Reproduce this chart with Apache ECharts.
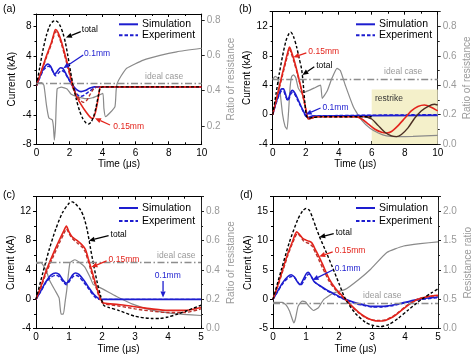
<!DOCTYPE html>
<html><head><meta charset="utf-8">
<script src="https://cdn.jsdelivr.net/npm/echarts@6/dist/echarts.min.js"></script>
<style>html,body{margin:0;padding:0;background:#fff}#c{width:474px;height:363px}</style>
</head><body><div id="c"></div>
<script>
// ---------------- DATA (time in µs, current in kA, ratio dimensionless) ----------------
// Panel (a)
const a_total = [[0,0],[0.2,2.5],[0.4,4.9],[0.6,6.8],[0.8,8.1],[1.0,8.7],[1.15,8.8],[1.3,8.6],[1.45,8.0],[1.6,7.1],[1.75,5.8],[1.9,4.0],[2.05,2.0],[2.2,0.2],[2.4,-1.8],[2.6,-3.4],[2.8,-4.5],[3.0,-5.1],[3.15,-5.25],[3.3,-5.0],[3.45,-4.3],[3.6,-3.0],[3.75,-1.3],[3.85,-0.4],[4.0,-0.2],[10,-0.2]];
const a_red_sim = [[0,0],[0.3,2.0],[0.6,4.0],[0.9,5.8],[1.05,7.0],[1.15,7.6],[1.3,7.2],[1.5,6.0],[1.7,4.4],[1.9,2.7],[2.05,1.3],[2.2,0],[2.4,-1.4],[2.7,-2.6],[3.0,-3.6],[3.25,-4.3],[3.4,-4.5],[3.55,-3.8],[3.7,-2.2],[3.8,-0.8],[3.88,-0.2],[10,-0.2]];
const a_red_exp = [[0,0],[0.3,1.9],[0.6,3.8],[0.9,5.6],[1.05,6.7],[1.15,7.3],[1.3,6.9],[1.5,5.7],[1.7,4.1],[1.9,2.4],[2.05,1.0],[2.15,-0.1],[2.4,-1.2],[2.65,-2.0],[2.85,-2.3],[3.05,-2.0],[3.25,-1.2],[3.45,-0.5],[3.65,-0.2],[10,-0.2]];
const a_blue_sim = [[0,0],[0.2,1.2],[0.4,2.2],[0.6,2.8],[0.7,2.9],[0.85,2.6],[1.0,1.9],[1.1,1.5],[1.25,1.9],[1.45,2.4],[1.6,2.3],[1.8,1.5],[2.0,0.7],[2.2,0.0],[2.45,-0.6],[2.7,-0.85],[2.95,-0.7],[3.2,-0.4],[3.5,-0.2],[10,-0.2]];
const a_blue_exp = [[0,0],[0.2,1.0],[0.4,2.0],[0.6,2.5],[0.75,2.6],[0.9,2.3],[1.05,1.6],[1.15,1.3],[1.3,1.6],[1.5,2.0],[1.65,1.9],[1.85,1.2],[2.05,0.4],[2.25,-0.4],[2.45,-1.2],[2.65,-1.5],[2.9,-1.3],[3.2,-0.8],[3.5,-0.35],[3.75,-0.2],[10,-0.2]];
const a_ratio = [[0,0.44],[0.3,0.445],[0.45,0.43],[0.6,0.32],[0.75,0.245],[0.95,0.235],[1.02,0.2],[1.08,0.12],[1.15,0.2],[1.25,0.41],[1.5,0.42],[1.85,0.41],[2.1,0.38],[2.5,0.365],[3.0,0.355],[3.4,0.36],[3.8,0.375],[4.02,0.385],[4.08,0.3],[4.18,0.253],[4.45,0.275],[4.75,0.31],[4.82,0.4],[4.88,0.44],[5.1,0.48],[5.46,0.527],[6.47,0.573],[7.48,0.6],[8.49,0.62],[10,0.64]];
const a_ideal = 0.442;

// Panel (b)
const b_total = [[0,0],[0.2,2.8],[0.4,5.6],[0.6,8.0],[0.8,10.0],[1.0,11.1],[1.1,11.2],[1.25,10.7],[1.45,9.2],[1.6,7.7],[1.75,6.2],[1.85,4.2],[1.95,1.6],[2.05,-0.2],[2.2,-0.5],[2.4,-0.4],[3,-0.3],[6,-0.3]];
const b_total_restrike = [[5.6,-0.3],[6.0,-0.6],[6.4,-1.5],[6.8,-2.4],[7.2,-2.9],[7.5,-3.0],[7.8,-2.7],[8.2,-1.8],[8.6,-0.5],[9.0,0.5],[9.4,1.1],[9.8,1.4],[10,1.3]];
const b_red_sim = [[0,0],[0.2,1.9],[0.4,3.8],[0.6,5.7],[0.8,7.5],[0.95,8.8],[1.02,9.2],[1.1,8.8],[1.3,7.4],[1.5,5.7],[1.7,3.8],[1.9,1.9],[2.05,0.3],[2.15,-0.5],[2.3,-0.5],[2.6,-0.3],[5.0,-0.3],[5.4,-0.6],[5.8,-1.3],[6.2,-2.0],[6.6,-2.4],[6.9,-2.5],[7.2,-2.3],[7.6,-1.5],[8.0,-0.5],[8.4,0.5],[8.8,1.1],[9.2,1.3],[9.6,1.0],[10,0.5]];
const b_red_exp = [[0,0],[0.2,1.8],[0.4,3.6],[0.6,5.4],[0.8,7.2],[0.95,8.4],[1.02,8.8],[1.1,8.5],[1.3,7.1],[1.5,5.5],[1.7,3.7],[1.9,1.8],[2.05,0.2],[2.15,-0.6],[2.3,-0.6],[2.6,-0.3],[6.0,-0.3]];
const b_blue_sim = [[0,0],[0.2,1.6],[0.4,2.9],[0.55,3.5],[0.65,3.5],[0.8,2.6],[0.9,2.0],[1.0,2.4],[1.1,3.1],[1.2,3.3],[1.35,2.9],[1.5,2.2],[1.7,1.2],[1.9,0.3],[2.05,-0.3],[2.15,-0.4],[2.4,-0.2],[10,-0.1]];
const b_blue_exp = [[0,0],[0.2,1.5],[0.4,2.7],[0.55,3.2],[0.65,3.2],[0.8,2.4],[0.9,1.9],[1.0,2.2],[1.1,2.8],[1.2,3.0],[1.35,2.7],[1.5,2.0],[1.7,1.1],[1.9,0.2],[2.05,-0.4],[2.15,-0.5],[2.4,-0.2],[10,0.0]];
const b_ratio = [[0,0.44],[0.15,0.46],[0.3,0.45],[0.45,0.35],[0.6,0.2],[0.75,0.12],[0.87,0.1],[0.95,0.2],[1.05,0.38],[1.15,0.46],[1.27,0.47],[1.4,0.45],[1.55,0.38],[1.75,0.35],[2.0,0.355],[2.5,0.38],[2.9,0.4],[3.0,0.31],[3.3,0.36],[3.6,0.45],[3.9,0.515],[4.1,0.5],[4.4,0.4],[4.9,0.25],[5.4,0.16],[5.9,0.107],[6.4,0.075],[6.9,0.055],[7.5,0.05],[8.5,0.052],[10,0.058]];
const b_ideal = 0.443;
const b_restrike = [[6,-4],[10,3.4]];

// Panel (c)
const c_total = [[0,0],[0.2,3.5],[0.4,6.8],[0.6,9.6],[0.8,11.8],[1.0,13.1],[1.1,13.3],[1.2,13.0],[1.35,12.2],[1.45,11.2],[1.55,9.5],[1.65,7.0],[1.75,4.6],[1.85,2.4],[1.95,0.6],[2.05,-0.8],[2.2,-1.1],[2.5,-1.5],[3.0,-2.3],[3.5,-2.6],[3.75,-2.6],[4.0,-2.4],[4.3,-2.0],[4.6,-1.5],[5,-0.8]];
const c_red_sim = [[0,0],[0.15,1.8],[0.3,3.8],[0.5,6.0],[0.7,8.0],[0.85,9.4],[0.92,10.0],[1.0,9.2],[1.1,8.5],[1.25,8.0],[1.4,7.4],[1.5,6.8],[1.58,5.6],[1.66,4.4],[1.75,3.0],[1.85,1.5],[1.95,0.1],[2.05,-0.5],[2.5,-0.7],[3.0,-1.0],[3.5,-1.3],[4.0,-1.5],[4.5,-1.5],[5,-1.1]];
const c_red_exp = [[0,0],[0.15,1.6],[0.3,3.5],[0.5,5.6],[0.7,7.6],[0.85,9.0],[0.92,9.6],[1.0,9.0],[1.1,8.3],[1.25,7.7],[1.4,7.1],[1.5,6.4],[1.58,5.2],[1.66,4.0],[1.75,2.6],[1.85,1.2],[1.95,-0.1],[2.05,-0.6],[2.5,-0.9],[3.0,-1.3],[3.5,-1.6],[4.0,-1.8],[4.5,-1.8],[5,-1.3]];
const c_blue_sim = [[0,0],[0.15,1.2],[0.3,2.4],[0.45,3.3],[0.6,3.6],[0.7,3.4],[0.82,2.6],[0.92,2.2],[1.02,2.7],[1.12,3.4],[1.2,3.6],[1.3,3.4],[1.45,2.6],[1.6,1.6],[1.75,0.7],[1.9,0.1],[2.0,0],[5,0]];
const c_blue_exp = [[0,0],[0.15,1.1],[0.3,2.3],[0.45,3.0],[0.6,3.3],[0.7,3.1],[0.82,2.4],[0.92,2.0],[1.02,2.5],[1.12,3.1],[1.2,3.3],[1.3,3.1],[1.45,2.3],[1.6,1.4],[1.75,0.5],[1.9,0],[2.0,0],[5,0]];
const c_ratio = [[0,0.443],[0.15,0.45],[0.25,0.42],[0.32,0.39],[0.42,0.325],[0.58,0.26],[0.7,0.21],[0.73,0.15],[0.76,0.1],[0.83,0.1],[0.88,0.18],[0.93,0.26],[1.03,0.45],[1.18,0.47],[1.33,0.45],[1.48,0.42],[1.64,0.35],[1.74,0.3],[1.94,0.28],[2.44,0.22],[2.95,0.166],[3.45,0.13],[3.96,0.11],[4.46,0.098],[5,0.09]];
const c_ideal = 0.447;

// Panel (d)
const d_total = [[0,0],[0.25,5.0],[0.5,9.8],[0.75,13.6],[0.9,15.1],[1.0,15.5],[1.1,15.2],[1.2,13.9],[1.3,12.3],[1.4,10.8],[1.6,8.2],[1.8,5.5],[2.0,2.7],[2.2,0],[2.5,-2.4],[2.8,-3.9],[3.0,-4.4],[3.25,-4.65],[3.5,-4.3],[3.8,-3.2],[4.1,-1.8],[4.5,0],[4.8,1.1],[5,1.8]];
const d_red_sim = [[0,0],[0.15,2.5],[0.3,5.2],[0.45,7.8],[0.6,10.0],[0.72,11.5],[0.8,11.1],[0.9,10.4],[1.0,10.1],[1.1,9.9],[1.18,9.6],[1.3,8.3],[1.4,7.2],[1.5,6.0],[1.7,3.5],[1.9,1.8],[2.05,0.9],[2.2,0],[2.4,-1.2],[2.6,-2.2],[2.8,-3.0],[3.0,-3.5],[3.2,-3.7],[3.4,-3.6],[3.6,-3.1],[3.8,-2.3],[4.0,-1.4],[4.2,-0.6],[4.4,0],[4.7,0.5],[5,0.7]];
const d_red_exp = [[0,0],[0.15,2.3],[0.3,4.9],[0.45,7.5],[0.6,9.7],[0.74,11.2],[0.82,10.8],[0.92,10.0],[1.0,9.7],[1.1,9.5],[1.18,9.1],[1.3,7.8],[1.4,6.6],[1.5,5.4],[1.7,3.1],[1.9,1.6],[2.05,0.7],[2.2,-0.1],[2.4,-1.3],[2.6,-2.3],[2.8,-3.1],[3.0,-3.5],[3.2,-3.6],[3.4,-3.5],[3.6,-3.0],[3.8,-2.2],[4.0,-1.3],[4.2,-0.5],[4.4,0.1],[4.7,0.5],[5,0.6]];
const d_blue_sim = [[0,0],[0.15,1.5],[0.3,2.9],[0.45,3.9],[0.55,4.2],[0.65,3.8],[0.75,2.9],[0.82,2.5],[0.9,3.2],[1.0,4.3],[1.07,4.6],[1.15,4.0],[1.25,3.0],[1.4,2.4],[1.6,1.7],[1.8,1.1],[2.0,0.5],[2.2,0],[2.5,-0.6],[2.8,-1.0],[3.0,-1.2],[3.3,-1.2],[3.6,-1.0],[4.0,-0.5],[4.4,0],[5,0.4]];
const d_blue_exp = [[0,0],[0.15,1.4],[0.3,2.7],[0.45,3.6],[0.57,3.9],[0.67,3.6],[0.77,2.8],[0.84,2.4],[0.92,3.0],[1.02,4.0],[1.09,4.3],[1.17,3.8],[1.27,2.9],[1.42,2.3],[1.6,1.6],[1.8,1.0],[2.0,0.4],[2.2,-0.1],[2.5,-0.7],[2.8,-1.1],[3.0,-1.3],[3.3,-1.3],[3.6,-1.1],[4.0,-0.6],[4.4,-0.1],[5,0.3]];
const d_ratio = [[0,0.45],[0.28,0.45],[0.4,0.4],[0.5,0.3],[0.58,0.17],[0.63,0.1],[0.68,0.17],[0.76,0.38],[0.88,0.47],[0.98,0.46],[1.08,0.39],[1.23,0.31],[1.38,0.36],[1.54,0.5],[1.84,0.61],[2.19,0.67],[2.6,0.84],[2.95,1.01],[3.45,1.3],[3.96,1.41],[4.46,1.45],[5,1.48]];
const d_ideal = 0.43;

// Axis tick labels (right axis of panel a)
const a_ratio_ticks = [0.2,0.4,0.6,0.8];
const legendNames = ['Simulation','Experiment'];

// ---------------- LAYOUT / STYLE ----------------
const FONT = '"Liberation Sans", Arial, sans-serif';
const BLUE = '#1d1dcf', RED = '#e3241c', RED2 = '#b8322c', GRAY = '#8a8a8a', LGRAY = '#9a9a9a';

const panels = [
  {label:'(a)', lab:[3,4], grid:{left:36.5, top:14, width:165.2, height:130.3}, xMax:10, xInt:2, xGap:15,
   yMin:-8, yMax:9.7, yInt:4, rMin:0.0964, rMax:0.834, rInt:0.2, rCustom:a_ratio_ticks, rName:'Ratio of resistance',
   legendLeft:118, legendTop:18.8, legendGap:0,
   total:a_total, redS:a_red_sim, redE:a_red_exp, blueS:a_blue_sim, blueE:a_blue_exp, ratio:a_ratio, ideal:a_ideal,
   notes:[
     {text:'total', color:'#000', pos:[2.74,7.53], from:[2.68,7.3], to:[1.78,6.5]},
     {text:'0.1mm', color:BLUE, pos:[2.88,4.36], from:[2.83,4.13], to:[1.62,2.33]},
     {text:'0.15mm', color:RED, pos:[4.65,-5.6], from:[4.45,-5.38], to:[3.54,-4.45]},
     {text:'ideal case', color:LGRAY, pos:[6.57,1.18]}
   ]},
  {label:'(b)', lab:[239,4], grid:{left:272.7, top:11.7, width:165, height:132.3}, xMax:10, xInt:2, xGap:15,
   yMin:-4, yMax:14, yInt:4, rMin:0, rMax:0.9, rInt:0.2, rName:'Ratio of resistance',
   legendLeft:355, legendTop:18.8, legendGap:0,
   total:b_total, redS:b_red_sim, redE:b_red_exp, blueS:b_blue_sim, blueE:b_blue_exp, ratio:b_ratio, ideal:b_ideal,
   restrikeTotal:b_total_restrike, area:b_restrike,
   notes:[
     {text:'0.15mm', color:RED, pos:[2.16,8.5], from:[2.04,8.4], to:[1.25,7.8]},
     {text:'total', color:'#000', pos:[2.64,6.6], from:[2.52,6.5], to:[1.8,5.4]},
     {text:'0.1mm', color:BLUE, pos:[3.02,1.0], from:[2.9,0.9], to:[2.0,0.0]},
     {text:'ideal case', color:LGRAY, pos:[6.75,5.8]},
     {text:'restrike', color:'#333', pos:[6.2,2.12]}
   ]},
  {label:'(c)', lab:[3,190], grid:{left:36, top:196.7, width:165, height:132}, xMax:5, xInt:1, xGap:16,
   yMin:-4, yMax:14, yInt:4, rMin:0, rMax:0.9, rInt:0.2, rName:'Ratio of resistance',
   legendLeft:118, legendTop:202.5, legendGap:2,
   total:c_total, redS:c_red_sim, redE:c_red_exp, blueS:c_blue_sim, blueE:c_blue_exp, ratio:c_ratio, ideal:c_ideal,
   notes:[
     {text:'total', color:'#000', pos:[2.26,8.8], from:[2.2,8.7], to:[1.6,8.0]},
     {text:'0.15mm', color:RED, pos:[2.2,5.4], from:[2.14,5.26], to:[1.68,4.4]},
     {text:'0.1mm', color:BLUE, pos:[3.6,3.2], from:[3.85,2.5], to:[3.85,0.25]},
     {text:'ideal case', color:LGRAY, pos:[3.67,5.95]}
   ]},
  {label:'(d)', lab:[240,190], grid:{left:273, top:196.7, width:165, height:132}, xMax:5, xInt:1, xGap:16,
   yMin:-5, yMax:17.5, yInt:5, rMin:0, rMax:2.25, rInt:0.5, rName:'Resistance ratio',
   legendLeft:355, legendTop:202.5, legendGap:2,
   total:d_total, redS:d_red_sim, redE:d_red_exp, blueS:d_blue_sim, blueE:d_blue_exp, ratio:d_ratio, ideal:d_ideal,
   notes:[
     {text:'total', color:'#000', pos:[1.9,11.35], from:[1.84,11.2], to:[1.4,10.6]},
     {text:'0.15mm', color:RED, pos:[1.87,8.3], from:[1.81,8.1], to:[1.4,7.3]},
     {text:'0.1mm', color:BLUE, pos:[1.87,5.2], from:[1.81,5.0], to:[1.2,3.3]},
     {text:'ideal case', color:LGRAY, pos:[2.73,0.59]}
   ]}
];

const grids = [], xAxes = [], yAxes = [], series = [], legends = [];
const tickFont = {fontSize:10, fontFamily:FONT};

panels.forEach((p, i) => {
  grids.push(Object.assign({containLabel:false}, p.grid));
  xAxes.push({type:'value', gridIndex:i, position:'bottom', min:0, max:p.xMax, interval:p.xInt,
    name:'Time (μs)', nameLocation:'middle', nameGap:p.xGap, nameTextStyle:{fontSize:10, fontFamily:FONT, color:'#000'},
    axisLine:{show:true, onZero:false, lineStyle:{color:'#000', width:1}},
    axisTick:{show:true, inside:true, length:3, lineStyle:{color:'#000'}},
    minorTick:{show:true, splitNumber:2, length:2, lineStyle:{color:'#000'}},
    axisLabel:Object.assign({color:'#000', margin:4}, tickFont), splitLine:{show:false}});
  xAxes.push({type:'value', gridIndex:i, position:'top', min:0, max:p.xMax, interval:p.xInt,
    axisLine:{show:true, onZero:false, lineStyle:{color:'#000', width:1}},
    axisTick:{show:true, inside:true, length:3, lineStyle:{color:'#000'}},
    minorTick:{show:true, splitNumber:2, length:2, lineStyle:{color:'#000'}},
    axisLabel:{show:false}, splitLine:{show:false}});
  yAxes.push({type:'value', gridIndex:i, position:'left', min:p.yMin, max:p.yMax, interval:p.yInt,
    name:'Current (kA)', nameLocation:'middle', nameGap:19, nameTextStyle:{fontSize:10, fontFamily:FONT, color:'#000'},
    axisLine:{show:true, onZero:false, lineStyle:{color:'#000', width:1}},
    axisTick:{show:true, inside:false, length:3, lineStyle:{color:'#000'}},
    minorTick:{show:true, splitNumber:2, length:2, lineStyle:{color:'#000'}},
    axisLabel:Object.assign({color:'#000', margin:5, showMaxLabel:false}, tickFont), splitLine:{show:false}});
  const r = {type:'value', gridIndex:i, position:'right', min:p.rMin, max:p.rMax,
    name:p.rName, nameLocation:'middle', nameGap:25, nameRotate:90, nameTextStyle:{fontSize:10, fontFamily:FONT, color:LGRAY},
    axisLine:{show:true, onZero:false, lineStyle:{color:'#222', width:1}},
    axisTick:{show:true, inside:false, length:3, lineStyle:{color:'#222'}},
    axisLabel:Object.assign({color:LGRAY, margin:5, formatter:v => v.toFixed(1)}, tickFont),
    splitLine:{show:false}};
  if (p.rCustom) {
    r.axisLabel.customValues = p.rCustom; r.axisTick.customValues = p.rCustom;
  } else {
    r.interval = p.rInt;
    r.axisLabel.showMaxLabel = false;
    r.minorTick = {show:true, splitNumber:2, length:2, lineStyle:{color:'#222'}};
  }
  yAxes.push(r);

  const xi = 2*i, yl = 2*i, yr = 2*i+1;
  const base = {type:'line', xAxisIndex:xi, yAxisIndex:yl, showSymbol:false, symbol:'none', smooth:0.25, silent:true, animation:false};
  series.push(Object.assign({}, base, {name:'ratio'+i, yAxisIndex:yr, data:p.ratio, smooth:0.15,
    lineStyle:{color:GRAY, width:1.2}, itemStyle:{color:GRAY},
    markLine:{silent:true, symbol:['none','none'], label:{show:false}, animation:false,
      lineStyle:{color:'#8d8d8d', width:1.3, type:[7,2.5,1.5,2.5]}, data:[{yAxis:p.ideal}]}}));
  series.push(Object.assign({}, base, {name:'blueE'+i, data:p.blueE,
    lineStyle:{color:BLUE, width:1.4, type:[3.5,2]}, itemStyle:{color:BLUE},
    markArea: p.area ? {silent:true, itemStyle:{color:'#f4f0ca'}, data:[[{coord:p.area[0]},{coord:p.area[1]}]]} : undefined}));
  series.push(Object.assign({}, base, {name:'blueS'+i, data:p.blueS, lineStyle:{color:BLUE, width:1.6}, itemStyle:{color:BLUE}}));
  series.push(Object.assign({}, base, {name:'redE'+i, data:p.redE, lineStyle:{color:RED2, width:1.4, type:[3.5,2]}, itemStyle:{color:RED2}}));
  series.push(Object.assign({}, base, {name:'redS'+i, data:p.redS, lineStyle:{color:RED, width:1.6}, itemStyle:{color:RED}}));
  if (p.restrikeTotal) {
    series.push(Object.assign({}, base, {name:'restrike'+i, data:p.restrikeTotal, lineStyle:{color:'#4a2e22', width:1.4}, itemStyle:{color:'#4a2e22'}}));
  }
  series.push(Object.assign({}, base, {name:'total'+i, data:p.total, lineStyle:{color:'#000', width:1.4, type:[3,2]}, itemStyle:{color:'#000'}}));

  legends.push({show:true, data:legendNames, orient:'vertical', left:p.legendLeft, top:p.legendTop,
    padding:0, itemGap:p.legendGap, itemWidth:19, itemHeight:9, selectedMode:false,
    itemStyle:{opacity:0, borderWidth:0},
    textStyle:{fontSize:10.5, fontFamily:FONT, color:'#000', lineHeight:10.5, padding:[0,0,0,-1]}});
});

// legend-only series
series.push({type:'line', name:'Simulation', data:[], xAxisIndex:0, yAxisIndex:0, symbol:'none', symbolSize:0, lineStyle:{color:BLUE, width:2}, itemStyle:{color:BLUE}});
series.push({type:'line', name:'Experiment', data:[], xAxisIndex:0, yAxisIndex:0, symbol:'none', symbolSize:0, lineStyle:{color:BLUE, width:2, type:[3.5,2]}, itemStyle:{color:BLUE}});

const chart = echarts.init(document.getElementById('c'), null, {renderer:'canvas'});
chart.setOption({animation:false, backgroundColor:'#fff', grid:grids, xAxis:xAxes, yAxis:yAxes, legend:legends, series:series});

// annotations (text + arrows), placed through the axes' own scales
const gfx = [];
panels.forEach((p, i) => {
  gfx.push({type:'text', left:p.lab[0], top:p.lab[1], silent:true,
    style:{text:p.label, fill:'#000', font:'10.5px ' + FONT}});
  const finder = {xAxisIndex:2*i, yAxisIndex:2*i};
  p.notes.forEach(n => {
    const pt = chart.convertToPixel(finder, n.pos);
    gfx.push({type:'text', x:pt[0], y:pt[1], silent:true, z:100,
      style:{text:n.text, fill:n.color, font:'8.5px ' + FONT, verticalAlign:'middle', align:'left'}});
    if (n.from) {
      const a = chart.convertToPixel(finder, n.from), b = chart.convertToPixel(finder, n.to);
      const dx = b[0]-a[0], dy = b[1]-a[1], L = Math.hypot(dx, dy), ux = dx/L, uy = dy/L;
      const hl = 6, hw = 2.6, bx = b[0]-ux*hl, by = b[1]-uy*hl;
      gfx.push({type:'line', silent:true, z:100, shape:{x1:a[0], y1:a[1], x2:bx, y2:by}, style:{stroke:n.color, lineWidth:1.3}});
      gfx.push({type:'polygon', silent:true, z:100, shape:{points:[[b[0],b[1]],[bx-uy*hw,by+ux*hw],[bx+uy*hw,by-ux*hw]]}, style:{fill:n.color}});
    }
  });
});
chart.setOption({graphic:gfx});
</script>
</body></html>
